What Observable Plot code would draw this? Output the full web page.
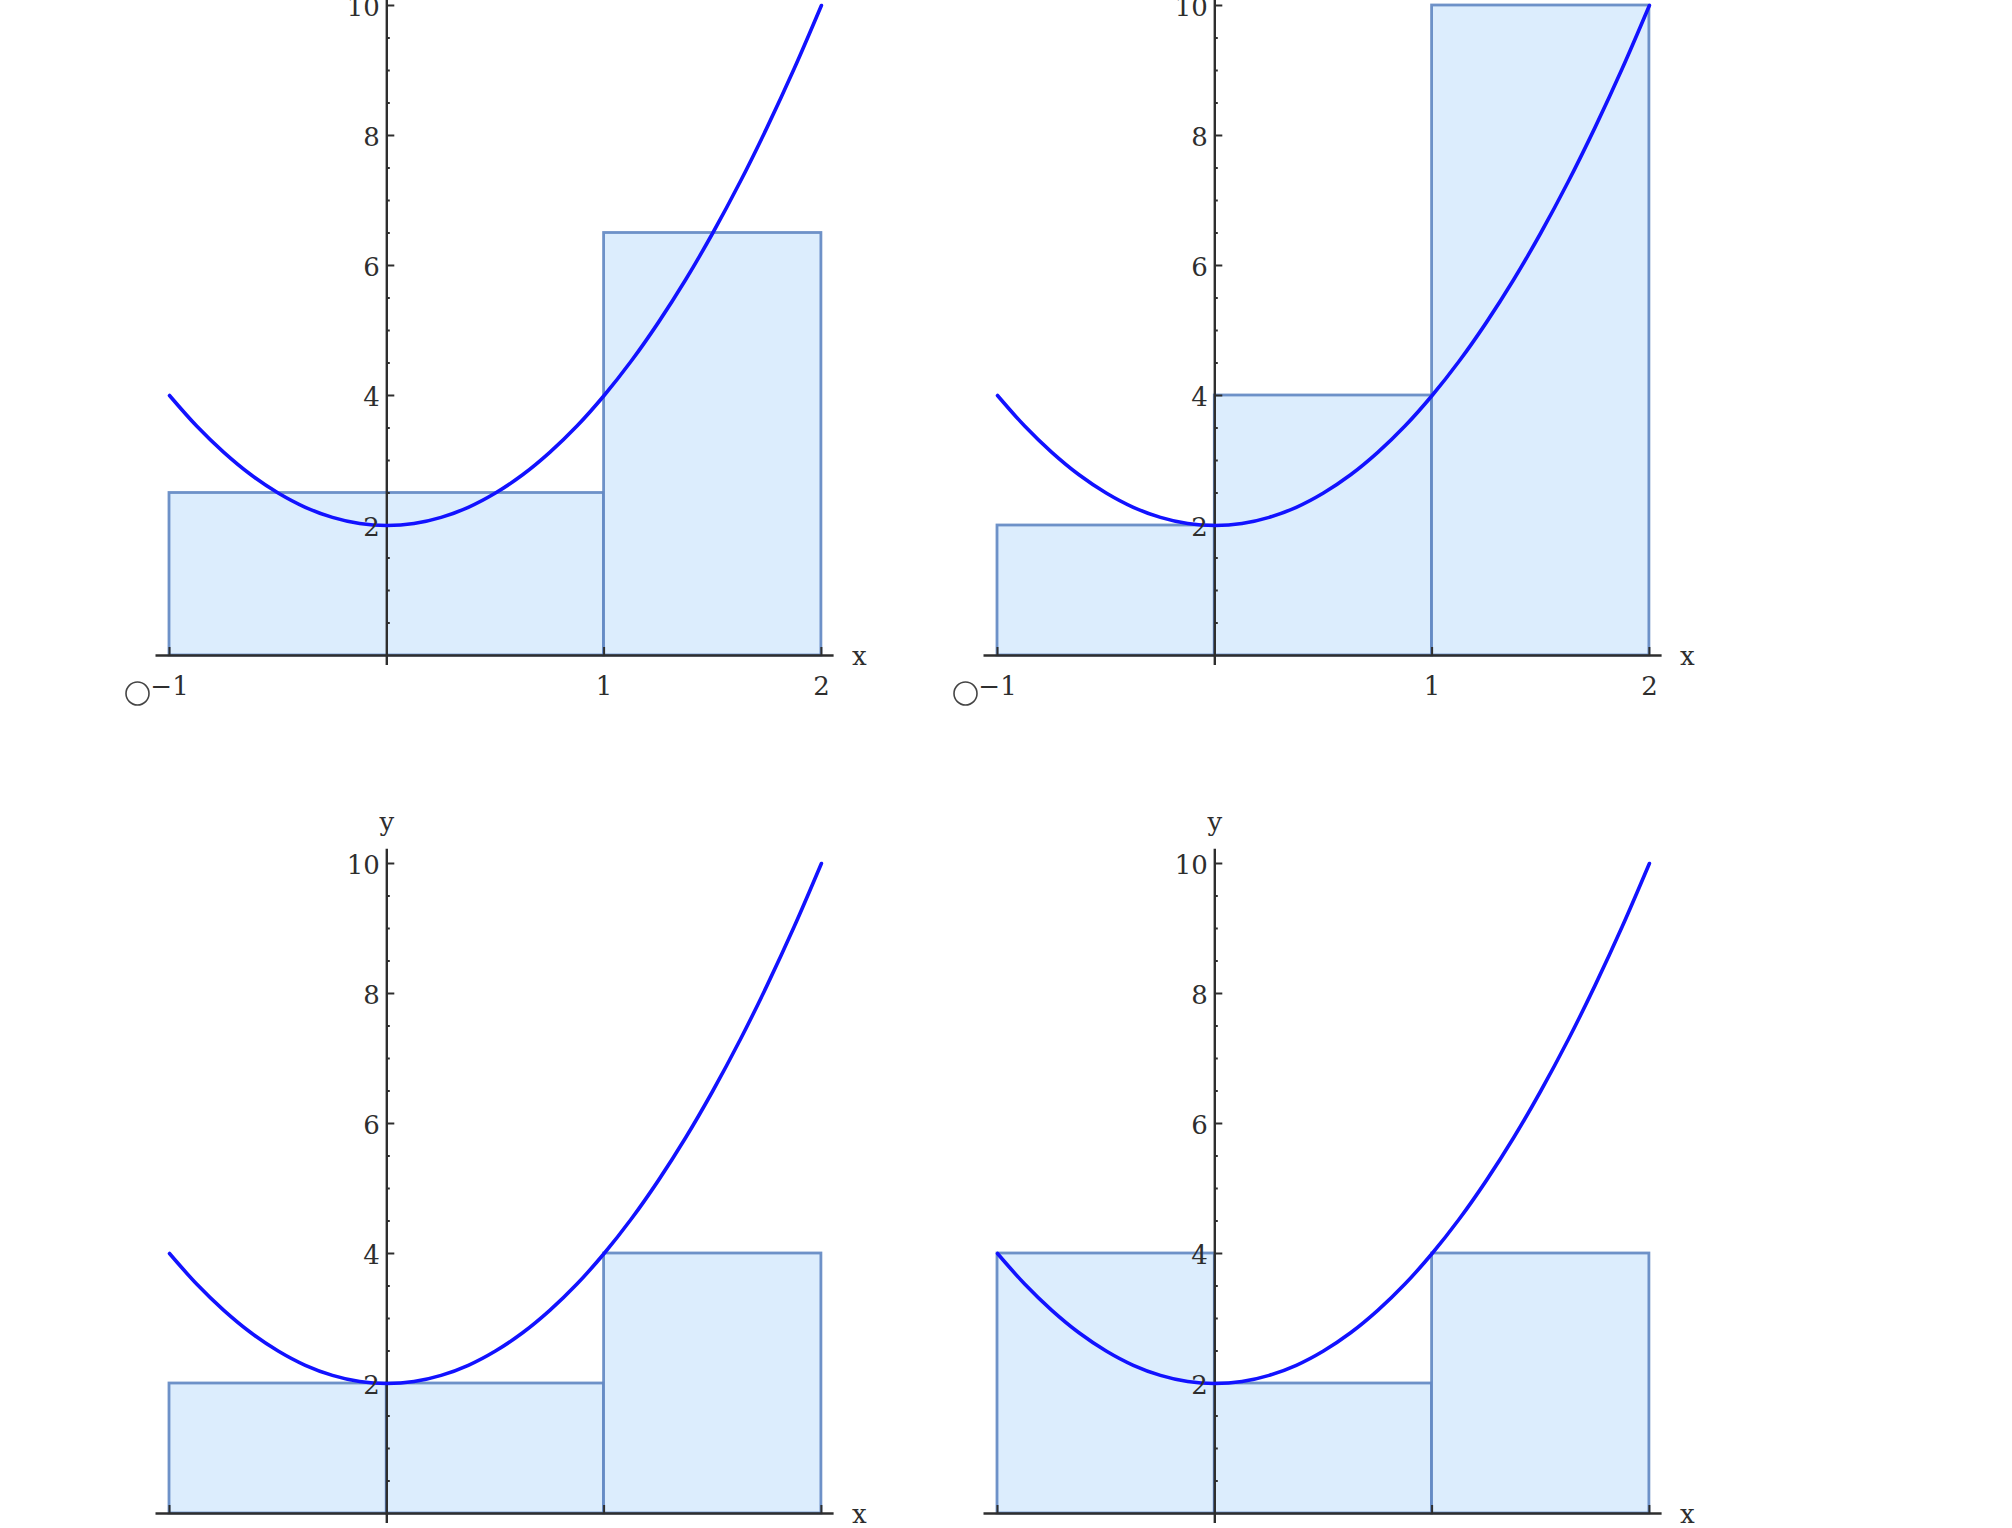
<!DOCTYPE html>
<html>
<head>
<meta charset="utf-8">
<script src="https://cdn.jsdelivr.net/npm/d3@7"></script>
<script src="https://cdn.jsdelivr.net/npm/@observablehq/plot@0.6"></script>
<style>
  html, body { margin: 0; padding: 0; background: #ffffff; overflow: hidden; width: 2012px; height: 1528px; }
  #root { position: relative; width: 2012px; height: 1528px; overflow: hidden; background: #ffffff; }
  .panel { position: absolute; }
</style>
</head>
<body>
<div id="root"></div>
<script>
// ---- data ----
// curve points (blue line)
const curveX = [-1, -0.875, -0.75, -0.625, -0.5, -0.375, -0.25, -0.125, 0, 0.125, 0.25, 0.375, 0.5, 0.625, 0.75, 0.875, 1, 1.125, 1.25, 1.375, 1.5, 1.625, 1.75, 1.875, 2];
const curveY = [4, 3.53, 3.125, 2.78, 2.5, 2.28, 2.125, 2.03, 2, 2.03, 2.125, 2.28, 2.5, 2.78, 3.125, 3.53, 4, 4.53, 5.125, 5.78, 6.5, 7.28, 8.125, 9.03, 10];

// rectangles per panel
const p1Left = [-1, 1],      p1Right = [1, 2],       p1Height = [2.5, 6.5];
const p2Left = [-1, 0, 1],   p2Right = [0, 1, 2],    p2Height = [2, 4, 10];
const p3Left = [-1, 0, 1],   p3Right = [0, 1, 2],    p3Height = [2, 2, 4];
const p4Left = [-1, 0, 1],   p4Right = [0, 1, 2],    p4Height = [4, 2, 4];

// ticks and labels
const yMajor = [2, 4, 6, 8, 10];
const yMinor = [0.5, 1, 1.5, 2.5, 3, 3.5, 4.5, 5, 5.5, 6.5, 7, 7.5, 8.5, 9, 9.5];
const xTicks = [-1, 1, 2];
const xTickLabels = ["\u22121", "1", "2"];
const xAxisName = "x";
const yAxisName = "y";

// ---- layout ----
const Kx = 217.3;   // px per x unit
const Ky = 65;      // px per y unit
const W = 900, H = 860;
const mL = 120, mT = 60;
const mR = W - mL - 3 * Kx;
const mB = H - mT - 10 * Ky;

// top row: the y name lies above the window; bottom row: the x tick labels lie below it
const panels = [
  {left: p1Left, right: p1Right, height: p1Height, px: 168.5, py: 4.7, showYName: false, showXLabels: true},
  {left: p2Left, right: p2Right, height: p2Height, px: 996.8, py: 4.7, showYName: false, showXLabels: true},
  {left: p3Left, right: p3Right, height: p3Height, px: 168.5, py: 863.3, showYName: true, showXLabels: false},
  {left: p4Left, right: p4Right, height: p4Height, px: 996.8, py: 863.3, showYName: true, showXLabels: false}
];

const curve = curveX.map((x, i) => ({x, y: curveY[i]}));
const axisColor = "#2e2e2e";
const root = document.getElementById("root");

for (const p of panels) {
  const rects = p.left.map((l, i) => ({x1: l, x2: p.right[i], h: p.height[i]}));
  const marks = [
    Plot.rect(rects, {x1: "x1", x2: "x2", y1: 0, y2: "h", fill: "#dcedfd", stroke: "#5f86c2", strokeOpacity: 0.9, strokeWidth: 2.8}),
    // x axis line
    Plot.ruleY([0], {x1: -1 - 13.5 / Kx, x2: 2 + 12.7 / Kx, stroke: axisColor, strokeWidth: 2.4}),
    // y axis line
    Plot.ruleX([0], {y1: -10 / Ky, y2: 10 + 14.3 / Ky, stroke: axisColor, strokeWidth: 2.4}),
    // y ticks
    Plot.ruleY(yMajor, {x1: 0, x2: 8 / Kx, stroke: axisColor, strokeWidth: 2}),
    Plot.ruleY(yMinor, {x1: 0, x2: 3.5 / Kx, stroke: axisColor, strokeWidth: 2}),
    // x ticks
    Plot.ruleX(xTicks, {y1: 0, y2: 8 / Ky, stroke: axisColor, strokeWidth: 2}),
    // curve
    Plot.line(curve, {x: "x", y: "y", stroke: "#1212ff", strokeWidth: 3.6, curve: "catmull-rom"}),
    // y tick labels
    Plot.text(yMajor, {x: 0, y: d => d, text: d => String(d), textAnchor: "end", dx: -7, dy: 2, fill: axisColor}),
    // x axis name
    Plot.text([xAxisName], {x: 2, y: 0, text: d => d, dx: 38, dy: 1, fill: axisColor})
  ];
  if (p.showXLabels) {
    marks.push(
      Plot.text(xTicks, {x: d => d, y: 0, text: (d, i) => xTickLabels[i], dy: 31, fill: axisColor}),
      Plot.dot([xTicks[0]], {x: d => d, y: 0, dx: -32, dy: 38, r: 11.5, stroke: "#444444", strokeWidth: 1.6, fill: "none"})
    );
  }
  if (p.showYName) {
    marks.push(Plot.text([yAxisName], {x: 0, y: 10, text: d => d, dy: -41, fill: axisColor}));
  }
  const chart = Plot.plot({
    width: W, height: H,
    marginLeft: mL, marginRight: mR, marginTop: mT, marginBottom: mB,
    x: {domain: [-1, 2], axis: null},
    y: {domain: [0, 10], axis: null},
    style: {fontFamily: "'DejaVu Serif', serif", fontSize: "26px", background: "transparent", overflow: "visible", color: axisColor},
    marks
  });
  chart.classList.add("panel");
  chart.style.left = (p.px - mL) + "px";
  chart.style.top = (p.py - mT) + "px";
  root.appendChild(chart);
}
</script>
</body>
</html>
